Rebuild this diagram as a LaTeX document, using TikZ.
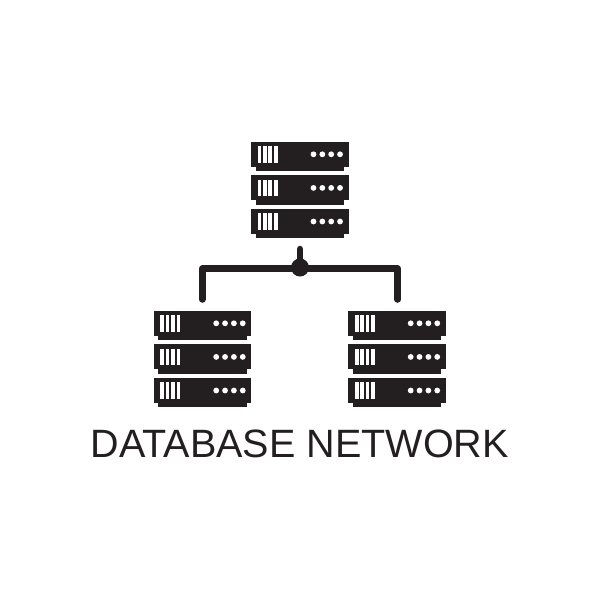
\documentclass[tikz,border=0pt]{standalone}
\usepackage{fontspec}
\usepackage{xcolor}
\setmainfont{Liberation Sans}
\usetikzlibrary{calc, positioning}
\definecolor{ink}{HTML}{231F20}

\begin{document}
\begin{tikzpicture}[x=0.02cm, y=-0.02cm]
		\tikzstyle{panel} = [fill=ink, rectangle, inner sep=0pt, minimum width=1.95cm, minimum height=0.5cm]
		\tikzstyle{foot} = [fill=ink, rectangle, inner sep=0pt, minimum width=1.77cm, minimum height=0.16cm]
		\tikzstyle{slot} = [fill=white, rectangle, inner sep=0pt, minimum width=0.075cm, minimum height=0.33cm]
		\tikzstyle{led} = [fill=white, circle, inner sep=0pt, minimum size=0.116cm]
		\tikzstyle{hub} = [fill=ink, circle, inner sep=0pt, minimum size=0.36cm]
		\tikzstyle{wire} = [draw=ink, line width=0.13cm, line cap=round, line join=round]
		
		\useasboundingbox (0, 0) rectangle (600, 600);
		
		% three racks of three units
		\foreach \rack/\cx/\ty in {t/300/142, l/202.7/311, r/397.2/311} {
			\foreach \k in {0, 1, 2} {
				\node[foot]		at (\cx, \ty + 33.6*\k + 25)	(\rack foot\k)	{};
				\node[panel]	at (\cx, \ty + 33.6*\k + 12.3)	(\rack unit\k)	{};
				\foreach \s in {0, 1, 2, 3} {
					\node[slot]	at (\cx - 40.5 + 5.4*\s, \ty + 33.6*\k + 12.3)	(\rack slot\k\s)	{};
				}
				\foreach \s in {0, 1, 2, 3} {
					\node[led]	at (\cx + 13.5 + 8.85*\s, \ty + 33.6*\k + 12.3)	(\rack led\k\s)	{};
				}
			}
		}
		
		\node[hub]	at (300, 267.5)	(hub)	{};
		\coordinate	(stem)	at (300, 249);
		\coordinate	(dropl)	at (202.3, 299.5);
		\coordinate	(dropr)	at (397.7, 299.5);
		
		\draw [wire] (stem) -- (hub.center);
		\draw [wire] (dropl) |- ($(hub.center)+(0,1)$) -| (dropr);
		
		\node[anchor=base, text=ink, font=\fontsize{22.5}{26}\selectfont, inner sep=0pt]	at (299.7, 457.3)	(title)	{DATABASE NETWORK};
	\end{tikzpicture}
\end{document}
